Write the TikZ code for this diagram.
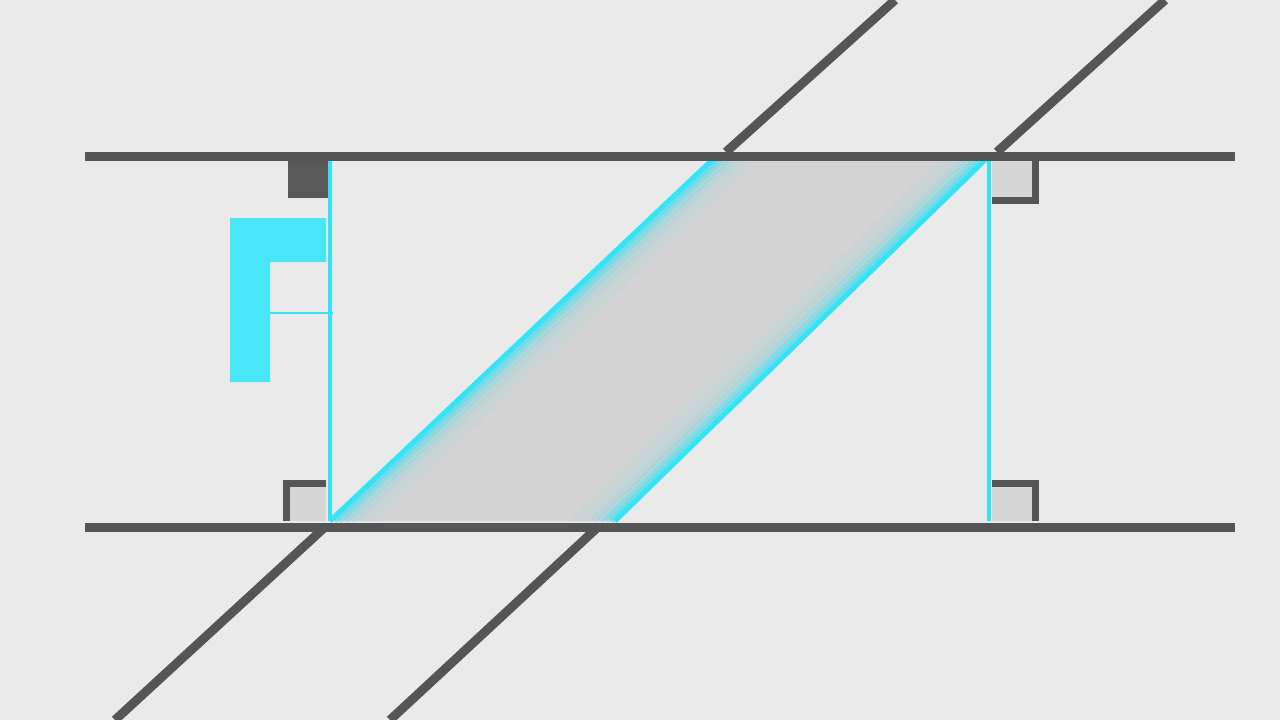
\documentclass[tikz,border=0pt]{standalone}
\usetikzlibrary{calc}
\definecolor{bg}{HTML}{EAEAEA}
\definecolor{ink}{HTML}{555555}
\definecolor{inkdark}{HTML}{595959}
\definecolor{cy}{HTML}{35E3F7}
\definecolor{fillg}{HTML}{D3D3D3}
\definecolor{markg}{HTML}{D6D6D6}
\tikzset{
  rule/.style={draw=ink,line width=9pt},
  cyline/.style={draw=cy,line width=4.5pt},
  marker/.style={draw=ink,line width=7pt,fill=markg},
}
\begin{document}
\begin{tikzpicture}[x=1pt,y=-1pt]
\fill[bg] (0,0) rectangle (1280,720);
\useasboundingbox (0,0) rectangle (1280,720);
% key points
\coordinate (A) at (330,521);
\coordinate (B) at (712,160);
\coordinate (C) at (985,160);
\coordinate (D) at (615,521);
% right-angle markers
\fill[markg] (283,480) rectangle (326,521);
\draw[ink,line width=7pt] (286,521) -- (286,483) -- (326,483);
\fill[inkdark] (288,158) rectangle (328,198);
\fill[markg] (992,160) rectangle (1035,200);
\draw[ink,line width=7pt] (992,200) -- (1035,200) -- (1035,158);
\fill[markg] (992,483) rectangle (1035,521);
\draw[ink,line width=7pt] (992,483) -- (1035,483) -- (1035,521);
% parallelogram
\fill[fillg] (A) -- (B) -- (C) -- (D) -- cycle;
% soft cyan glow along edges
\foreach \o/\op in {4/0.45,9/0.3,15/0.2,22/0.12,31/0.07,42/0.04}{
  \draw[cy,line width=7pt,opacity=\op] ($(A)+(\o,0)$) -- ($(B)+(\o,0)$);
  \draw[cy,line width=7pt,opacity=\op] ($(D)+(-\o,0)$) -- ($(C)+(-\o,0)$);
}
\draw[cyline,line width=5pt] (A) -- (B);
\draw[cyline,line width=5pt] (D) -- (C);
% rectangle sides
\draw[cyline] (330,160) -- (330,521);
\draw[cyline] (989,160) -- (989,521);
% horizontal rules
\draw[rule] (85,156) -- (1235,156);
\draw[rule] (85,527) -- (1235,527);
% diagonals (outer parts)
\coordinate (L1a) at (115,720); \coordinate (L1b) at (325,527);
\coordinate (L1c) at (726,152); \coordinate (L1d) at (895,0);
\coordinate (L2a) at (390,720); \coordinate (L2b) at (598,527);
\coordinate (L2c) at (997,152); \coordinate (L2d) at (1165,0);
\draw[rule] (L1a) -- (L1b);
\draw[rule] (L1c) -- (L1d);
\draw[rule] (L2a) -- (L2b);
\draw[rule] (L2c) -- (L2d);
% cyan partial letter
\fill[cy!90!white] (230,218) -- (326,218) -- (326,262) -- (270,262) -- (270,382) -- (230,382) -- cycle;
\draw[cy,line width=2pt] (270,313) -- (333,313);
\end{tikzpicture}
\end{document}
